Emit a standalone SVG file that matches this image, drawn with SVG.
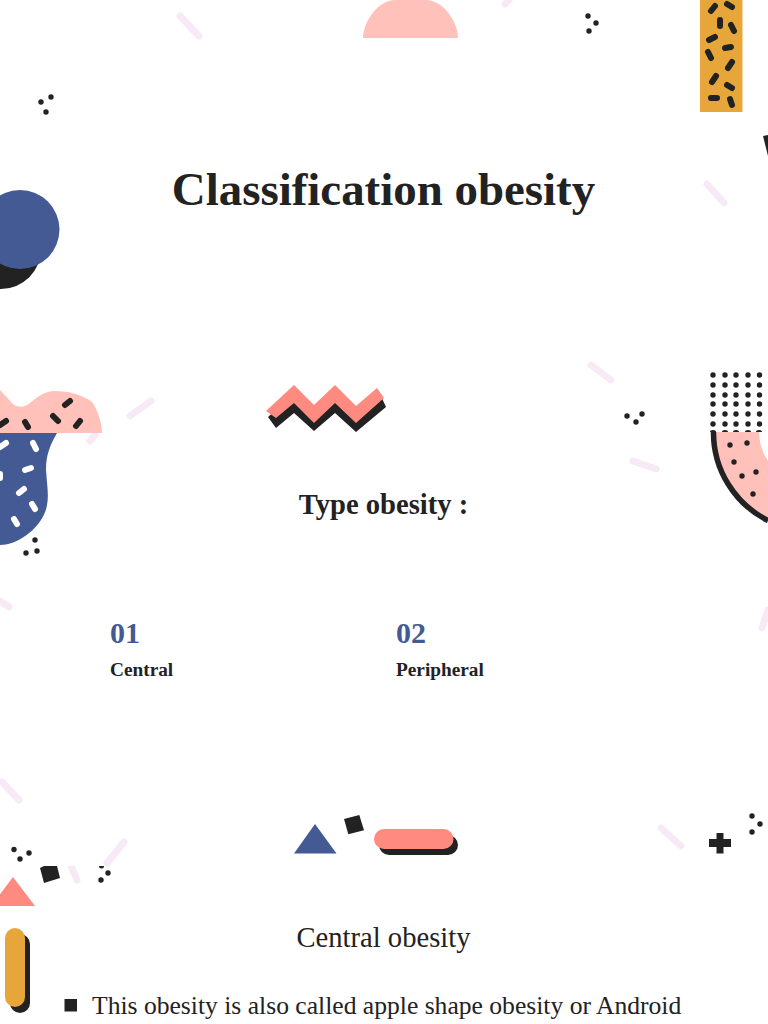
<svg xmlns="http://www.w3.org/2000/svg" width="768" height="1024" viewBox="0 0 768 1024">
<style>
text{font-family:"Liberation Serif","Times New Roman",serif;fill:#222}
.b{font-weight:bold}
.num{font-weight:bold;fill:#445a94;font-size:30px}
.sub{font-weight:bold;font-size:19.300px}
.lil{stroke:#f7eaf6;stroke-width:7;stroke-linecap:round;fill:none}
.dk{stroke:#222;stroke-width:6;stroke-linecap:round;fill:none}
.wh{stroke:#fff;stroke-width:6;stroke-linecap:round;fill:none}
.d circle{fill:#222;r:2.700px}
.d path{fill:#222}
</style>
<rect width="768" height="1024" fill="#fff"/>
<g id="lilac-dashes">
<path class="lil" d="M180 16L199 36M505 4L509 0M707 184L724 203M130 416L151 401M90 441L95 435M591 365L611 380M633 461L656 469M0 601L9 607M2 782L19 800M124 842L107 863M71 866L77 880M661 828L681 846M768 610L762 628"/>
<rect x="62" y="856" width="22" height="10" fill="#fff"/>
</g>
<g id="top-semicircle"><path d="M363 38C363 22 378 0 395 0H426C443 0 458 22 458 38Z" fill="#ffc1ba"/></g>
<g id="top-dots" class="d"><circle cx="588" cy="16"/><circle cx="596" cy="23"/><circle cx="589" cy="31"/></g>
<g id="left-dots" class="d"><circle cx="41" cy="102"/><circle cx="51" cy="97"/><circle cx="46" cy="112"/></g>
<g id="orange-bar">
<rect x="700" y="0" width="42.500" height="112" fill="#e7a63a"/>
<path class="dk" d="M711 11L715 6M727 4L732 7M720 20L720 26M731 25L734 31M709 40L715 37M725 48L731 47M708 52L711 58M732 62L728 68M716 76L712 82M727 85L732 88M711 98L717 98M730 99L732 105"/>
</g>
<g id="right-edge-mark"><path d="M763 136L768 135V156Z" fill="#222"/></g>
<g id="blue-circle"><circle cx="1" cy="249" r="40" fill="#222"/><circle cx="20" cy="229.500" r="39.500" fill="#445a94"/></g>
<g id="title"><text class="b" x="383.500" y="205" font-size="46.900" text-anchor="middle">Classification obesity</text></g>
<g id="left-blob">
<path d="M0 433H57C50 445 46 455 46 470C47 485 49 495 47 505C44 525 20 545 0 545Z" fill="#445a94"/>
<path class="wh" d="M0 447L6 443M33 443L36 449M25 470L31 468M19 493L24 489M32 504L35 509M14 519L17 524M0 474V478"/>
<path d="M0 390L12 403C17 408 24 408 30 403C38 396 45 391 55 391C66 391 82 394 92 402C98 410 102 424 102 433H0Z" fill="#ffc1ba"/>
<path class="dk" d="M0 425L6 421M25 422L28 427M53 416L58 421M65 405L70 401M76 426L80 421"/>
<g class="d"><circle cx="35" cy="540"/><circle cx="26" cy="553"/><circle cx="37" cy="551"/></g>
</g>
<g id="zigzag">
<path d="M268 417L294 394L314 414L335 394L356 414L380 394L386 407L356 432L335 413L314 431L294 413L276 428Z" fill="#222"/>
<path d="M266 411L294 385L314 405L335 385L356 406L377 388L384 398L356 423L335 403L314 423L294 403L276 418Z" fill="#ff8a80"/>
</g>
<g id="right-half">
<path d="M711 432A101 101 0 0 0 768 523V461A53 53 0 0 1 759 432Z" fill="#ffc1ba"/>
<path d="M713.500 432A98.500 98.500 0 0 0 768 520.500" fill="none" stroke="#222" stroke-width="5.500"/>
<g class="d">
<circle cx="713" cy="375"/><circle cx="725" cy="375"/><circle cx="736" cy="375"/><circle cx="748" cy="375"/><circle cx="759.500" cy="375"/>
<circle cx="713" cy="385"/><circle cx="725" cy="385"/><circle cx="736" cy="385"/><circle cx="748" cy="385"/><circle cx="759.500" cy="385"/>
<circle cx="713" cy="395"/><circle cx="725" cy="395"/><circle cx="736" cy="395"/><circle cx="748" cy="395"/><circle cx="759.500" cy="395"/>
<circle cx="713" cy="404"/><circle cx="725" cy="404"/><circle cx="736" cy="404"/><circle cx="748" cy="404"/><circle cx="759.500" cy="404"/>
<circle cx="713" cy="414"/><circle cx="725" cy="414"/><circle cx="736" cy="414"/><circle cx="748" cy="414"/><circle cx="759.500" cy="414"/>
<circle cx="713" cy="424"/><circle cx="725" cy="424"/><circle cx="736" cy="424"/><circle cx="748" cy="424"/><circle cx="759.500" cy="424"/>
<path d="M710 432a3 2 0 0 1 6 0ZM722 432a3 2 0 0 1 6 0ZM733 432a3 2 0 0 1 6 0ZM745 432a3 2 0 0 1 6 0ZM756 432a3 2 0 0 1 6 0Z"/>
<circle cx="730" cy="445"/><circle cx="747" cy="443"/><circle cx="734" cy="462"/><circle cx="742" cy="476"/><circle cx="756" cy="472"/><circle cx="753" cy="494"/>
</g>
</g>
<g id="mid-dots" class="d"><circle cx="627" cy="416"/><circle cx="642" cy="414"/><circle cx="636" cy="422"/></g>
<g id="type-heading"><text class="b" x="383.500" y="514" font-size="28.600" text-anchor="middle">Type obesity :</text></g>
<g id="item-01"><text class="num" x="110" y="643">01</text><text class="sub" x="110" y="675.500">Central</text></g>
<g id="item-02"><text class="num" x="396" y="643">02</text><text class="sub" x="396" y="675.500">Peripheral</text></g>
<g id="shapes-center">
<path d="M294 853.500L315 824L336.500 853.500Z" fill="#445a94"/>
<path d="M344 819L359.300 815L364 830.300L348.300 834.300Z" fill="#222"/>
<rect x="379" y="835" width="79" height="20" rx="10" fill="#222"/>
<rect x="374" y="829" width="79.500" height="20" rx="10" fill="#ff8a80"/>
</g>
<g id="plus"><path d="M716.500 833H723.500V839H731V847H723.500V853.500H716.500V847H709V839H716.500Z" fill="#222"/></g>
<g id="right-dots" class="d"><circle cx="752" cy="816"/><circle cx="760" cy="824"/><circle cx="752" cy="832"/></g>
<g id="left-bottom">
<g class="d"><circle cx="14" cy="849.500"/><circle cx="20" cy="859"/><circle cx="29" cy="853"/></g>
<path d="M40 868L44 866H57L60 878L44 883Z" fill="#222"/>
<g class="d"><path d="M99 866h5a2.500 2.500 0 0 1-5 0Z"/><circle cx="108" cy="873"/><circle cx="101" cy="880"/></g>
<path d="M-9 906L13 877L35 906Z" fill="#ff8a80"/>
<rect x="10" y="934" width="20" height="79" rx="10" fill="#222"/>
<rect x="5" y="928" width="20" height="79" rx="10" fill="#e7a63a"/>
</g>
<g id="central-heading"><text x="383.500" y="947" font-size="28.600" text-anchor="middle">Central obesity</text></g>
<g id="bullet"><rect x="64.500" y="999" width="12.500" height="12.500" fill="#222"/><text x="92" y="1013.500" font-size="25.600">This obesity is also called apple shape obesity or Android</text></g>
</svg>
